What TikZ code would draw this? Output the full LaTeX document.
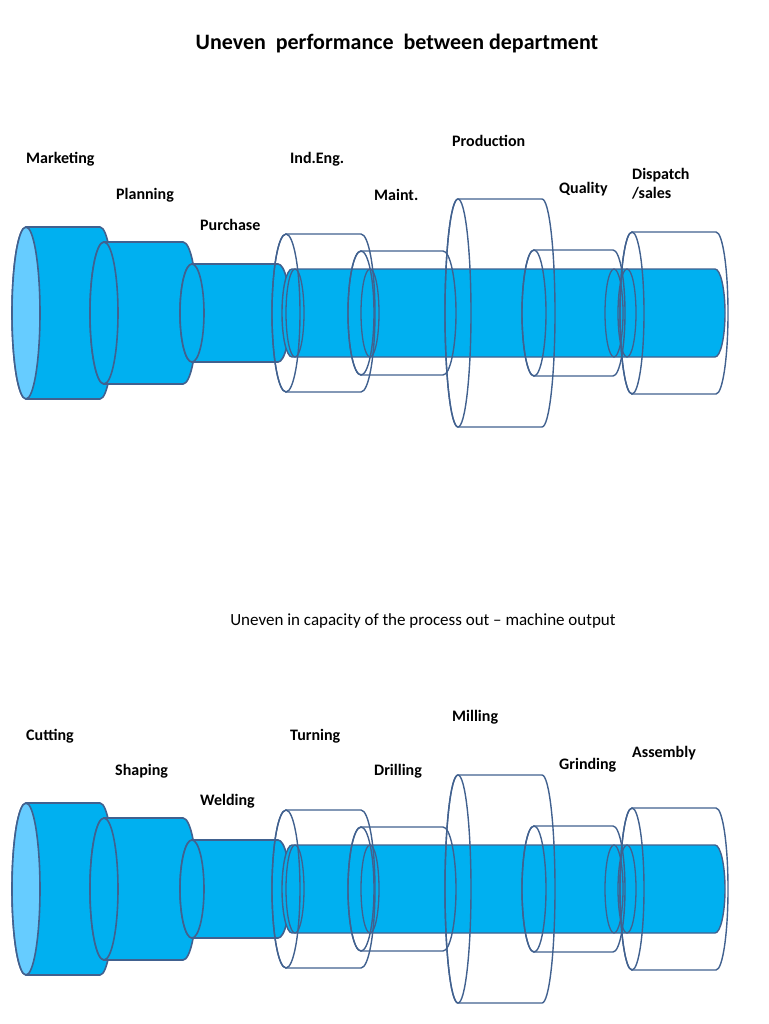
\documentclass[tikz,border=0pt]{standalone}
\usepackage{fontspec}
\setmainfont{Carlito}
\definecolor{shaft}{HTML}{00B0F0}
\definecolor{face}{HTML}{66CCFF}
\definecolor{edge}{HTML}{41618F}
\newcommand{\cylbody}[6]{% x1 x2 yc r rx opts
  \path[#6] ({#1},{#3-#4}) -- ({#2},{#3-#4}) arc[start angle=-90,end angle=90,x radius=#5,y radius=#4]
    -- ({#1},{#3+#4}) arc[start angle=90,end angle=270,x radius=#5,y radius=#4] -- cycle;}
\newcommand{\cylfilled}[6]{%
  \cylbody{#1}{#2}{#3}{#4}{#5}{fill=shaft,draw=edge,line width=1.6pt}
  \path[fill=#6,draw=edge,line width=1.6pt] (#1,#3) ellipse[x radius=#5,y radius=#4];}
\newcommand{\cylhollow}[5]{%
  \cylbody{#1}{#2}{#3}{#4}{#5}{draw=edge,line width=1.4pt}
  \path[draw=edge,line width=1.4pt] (#1,#3) ellipse[x radius=#5,y radius=#4];}
\newcommand{\ring}[2]{\path[draw=edge,line width=1.3pt] (#1,#2) ellipse[x radius=9,y radius=44];}
\newcommand{\shafts}[1]{%
  \cylfilled{26}{100}{#1}{86}{14}{face}
  \cylfilled{104}{183}{#1}{71}{14}{shaft}
  \cylfilled{192}{278}{#1}{49}{12}{shaft}
  \cylbody{292}{715}{#1}{44}{10}{fill=shaft,draw=edge,line width=1.4pt}
  \cylhollow{286}{361}{#1}{79}{14}
  \ring{295}{#1}
  \cylhollow{361}{443}{#1}{62}{13}
  \ring{370}{#1}
  \cylhollow{458}{542}{#1}{114}{13}
  \cylhollow{534}{613}{#1}{63}{12}
  \ring{614}{#1}
  \cylhollow{632}{716}{#1}{81}{12}
  \ring{627}{#1}
}
\tikzset{lab/.style={anchor=west,font=\bfseries\fontsize{16}{19}\selectfont,inner sep=0pt}}
\begin{document}
\begin{tikzpicture}[x=1pt,y=-1pt]
\useasboundingbox (0,0) rectangle (768,1024);
\node[font=\bfseries\fontsize{22}{26}\selectfont] (title) at (397,44) {Uneven\ \ performance\ \ between department};
\shafts{313}
\node[lab] (l1) at (26,159) {Marketing};
\node[lab] (l2) at (116,195) {Planning};
\node[lab] (l3) at (200,225) {Purchase};
\node[lab] (l4) at (290,159) {Ind.Eng.};
\node[lab] (l5) at (374,195) {Maint.};
\node[lab] (l6) at (452,141) {Production};
\node[lab] (l7) at (559,189) {Quality};
\node[lab,align=left,anchor=north west] (l8) at (632,168) {Dispatch\\/sales};
\node[font=\fontsize{17}{20}\selectfont] (sub) at (423,621) {Uneven in capacity of the process out -- machine output};
\shafts{889}
\node[lab] (m1) at (26,736) {Cutting};
\node[lab] (m2) at (115,771) {Shaping};
\node[lab] (m3) at (200,801) {Welding};
\node[lab] (m4) at (290,736) {Turning};
\node[lab] (m5) at (374,771) {Drilling};
\node[lab] (m6) at (452,717) {Milling};
\node[lab] (m7) at (559,765) {Grinding};
\node[lab] (m8) at (632,753) {Assembly};
\end{tikzpicture}
\end{document}
